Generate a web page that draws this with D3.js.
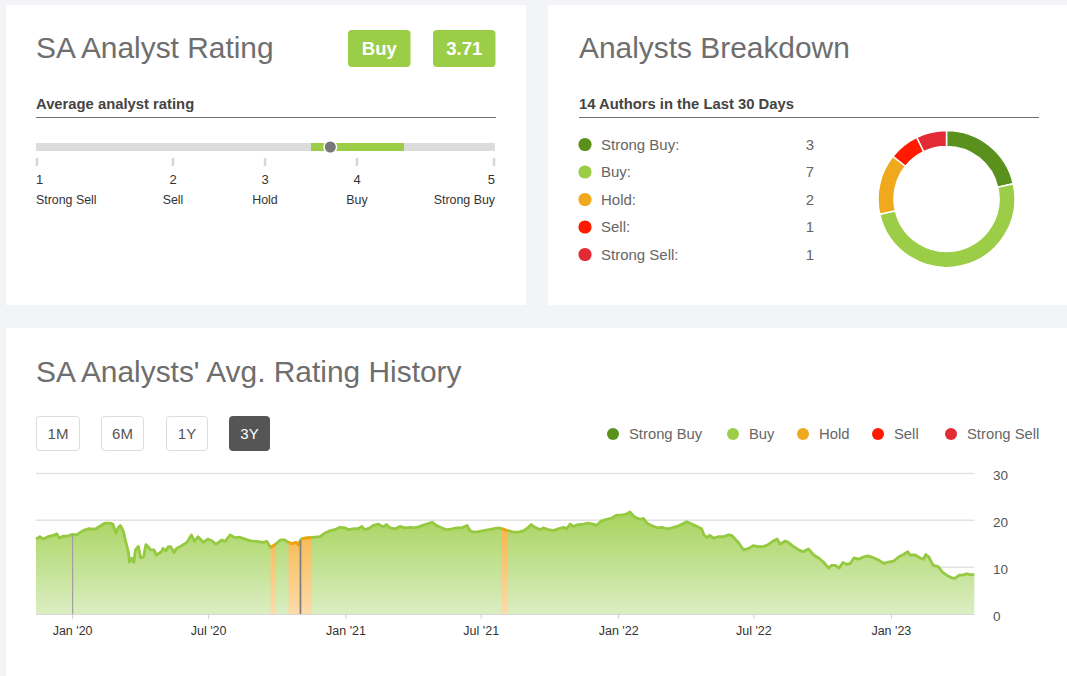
<!DOCTYPE html>
<html><head><meta charset="utf-8">
<script src="https://cdn.jsdelivr.net/npm/d3@7"></script>
<style>
html,body{margin:0;padding:0;background:#f3f4f7;}
svg{display:block;font-family:"Liberation Sans",Arial,sans-serif;}
</style></head>
<body>
<svg id="chart" width="1067" height="676"></svg>
<script>
// ---------- DATA ----------
const ratingValue = 3.71;
const ratingLabel = "Buy";
const ratingRange = [3.5, 4.34];
const scaleTicks = [1, 2, 3, 4, 5];
const scaleTickLabels = ["Strong Sell", "Sell", "Hold", "Buy", "Strong Buy"];

const categories = ["Strong Buy", "Buy", "Hold", "Sell", "Strong Sell"];
const authorCounts = [3, 7, 2, 1, 1];
const categoryColors = ["#5a911d", "#9bcd46", "#f0a81c", "#ff1a00", "#e32b36"];

const periodButtons = ["1M", "6M", "1Y", "3Y"];
const activePeriod = "3Y";
const yTicks = [0, 10, 20, 30];

const history = [
["2019-11-13",16.0],["2019-11-18",16.5],["2019-11-23",16.0],["2019-11-29",16.5],["2019-12-06",16.8],["2019-12-11",17.1],["2019-12-14",16.2],["2019-12-19",16.6],["2019-12-26",16.7],
["2020-01-01",17.0],["2020-01-06",16.9],["2020-01-15",17.8],["2020-01-22",18.2],["2020-01-31",18.1],["2020-02-07",18.8],["2020-02-13",19.4],["2020-02-20",19.4],["2020-02-24",19.2],["2020-02-28",17.3],
["2020-03-02",18.4],["2020-03-05",18.9],["2020-03-09",17.6],["2020-03-12",15.5],["2020-03-16",13.0],["2020-03-17",11.1],["2020-03-20",11.9],["2020-03-23",11.0],["2020-03-25",13.7],["2020-03-29",14.4],
["2020-04-01",12.0],["2020-04-05",12.2],["2020-04-08",14.8],["2020-04-11",14.4],["2020-04-14",13.7],["2020-04-19",13.7],["2020-04-22",12.6],["2020-04-29",13.3],["2020-05-01",14.0],["2020-05-05",13.5],
["2020-05-08",14.4],["2020-05-11",14.4],["2020-05-16",13.1],["2020-05-19",14.0],["2020-05-26",14.6],["2020-06-02",15.3],["2020-06-08",16.9],["2020-06-12",15.5],["2020-06-17",16.5],["2020-06-24",15.3],
["2020-06-30",16.0],["2020-07-06",15.6],["2020-07-11",14.9],["2020-07-19",15.8],["2020-07-23",15.5],["2020-07-30",16.9],["2020-08-05",16.3],["2020-08-12",16.4],["2020-08-19",16.0],["2020-08-26",15.6],
["2020-09-03",15.5],["2020-09-12",15.3],["2020-09-17",15.5],["2020-09-22",14.2],["2020-09-28",14.8],["2020-10-05",15.8],["2020-10-11",15.8],["2020-10-16",15.3],["2020-10-20",15.0],["2020-10-26",15.3],
["2020-10-29",14.8],["2020-11-02",16.0],["2020-11-07",16.2],["2020-11-14",16.3],["2020-11-20",16.4],["2020-11-27",16.5],["2020-12-04",17.3],["2020-12-11",17.8],["2020-12-17",18.0],["2020-12-24",18.5],
["2020-12-31",18.4],["2021-01-04",18.0],["2021-01-11",18.2],["2021-01-17",18.2],["2021-01-22",18.7],["2021-01-26",18.0],["2021-02-02",18.4],["2021-02-06",18.9],["2021-02-13",19.2],["2021-02-20",18.6],
["2021-02-24",19.1],["2021-03-01",18.4],["2021-03-08",18.2],["2021-03-14",18.7],["2021-03-21",18.4],["2021-03-28",18.5],["2021-04-03",18.4],["2021-04-10",18.7],["2021-04-17",19.1],["2021-04-26",19.6],
["2021-05-02",18.9],["2021-05-09",18.4],["2021-05-16",18.0],["2021-05-23",18.2],["2021-05-29",18.4],["2021-06-05",18.4],["2021-06-12",18.9],["2021-06-16",17.8],["2021-06-20",17.5],["2021-06-27",17.6],
["2021-07-04",17.8],["2021-07-11",18.0],["2021-07-17",18.2],["2021-07-24",18.4],["2021-07-29",18.2],["2021-08-04",17.8],["2021-08-06",17.8],["2021-08-13",17.5],["2021-08-20",17.5],["2021-08-27",17.8],
["2021-09-02",18.5],["2021-09-06",19.1],["2021-09-11",18.5],["2021-09-18",18.0],["2021-09-22",18.4],["2021-09-29",18.0],["2021-10-06",17.8],["2021-10-12",18.2],["2021-10-19",18.5],["2021-10-23",18.2],
["2021-10-28",19.2],["2021-11-01",18.7],["2021-11-08",19.1],["2021-11-15",19.2],["2021-11-21",19.4],["2021-11-28",19.2],["2021-12-02",18.9],["2021-12-09",19.9],["2021-12-16",20.2],["2021-12-23",20.5],
["2021-12-29",21.1],["2022-01-05",21.1],["2022-01-12",21.4],["2022-01-16",21.8],["2022-01-21",20.9],["2022-01-25",20.5],["2022-01-30",20.2],["2022-02-03",20.4],["2022-02-08",19.4],["2022-02-14",18.9],
["2022-02-21",18.4],["2022-02-28",18.5],["2022-03-07",18.2],["2022-03-13",18.4],["2022-03-20",18.7],["2022-03-27",19.2],["2022-04-02",19.7],["2022-04-09",19.2],["2022-04-16",18.7],["2022-04-22",18.2],
["2022-04-25",16.9],["2022-04-29",16.3],["2022-05-03",16.8],["2022-05-08",16.2],["2022-05-14",16.5],["2022-05-21",16.5],["2022-05-28",16.9],["2022-06-01",16.8],["2022-06-06",16.0],["2022-06-11",15.1],
["2022-06-17",13.7],["2022-06-24",14.0],["2022-06-30",14.6],["2022-07-07",14.4],["2022-07-14",14.4],["2022-07-21",14.9],["2022-07-27",15.6],["2022-08-01",16.0],["2022-08-05",14.9],["2022-08-12",15.6],
["2022-08-16",15.3],["2022-08-23",14.4],["2022-08-30",13.7],["2022-09-05",13.3],["2022-09-12",13.9],["2022-09-19",12.6],["2022-09-26",11.9],["2022-10-02",11.1],["2022-10-09",9.8],["2022-10-13",10.4],
["2022-10-18",10.4],["2022-10-23",9.8],["2022-10-28",11.0],["2022-11-02",10.6],["2022-11-07",10.8],["2022-11-12",12.0],["2022-11-18",11.7],["2022-11-25",12.2],["2022-12-01",12.4],["2022-12-08",12.0],
["2022-12-15",11.5],["2022-12-22",10.8],["2022-12-28",11.1],["2023-01-04",11.3],["2023-01-11",12.2],["2023-01-17",12.7],["2023-01-23",13.3],["2023-01-26",12.6],["2023-02-02",12.6],["2023-02-08",12.0],
["2023-02-13",11.7],["2023-02-16",12.7],["2023-02-20",12.2],["2023-02-26",10.4],["2023-03-05",10.1],["2023-03-10",9.0],["2023-03-16",8.3],["2023-03-23",7.7],["2023-03-27",7.6],["2023-04-02",8.3],
["2023-04-07",8.3],["2023-04-12",8.6],["2023-04-16",8.4],["2023-04-22",8.4]
];
const holdPeriods = [["2020-09-22","2020-09-29"],["2020-10-16","2020-10-31"],["2020-11-02","2020-11-16"],["2021-07-28","2021-08-06"]];
const noRatingDates = ["2020-01-01","2020-11-01"];

// ---------- DRAW ----------
const svg = d3.select("#chart");
const parse = d3.timeParse("%Y-%m-%d");

// cards
const cards = [[6,5,520,300],[548,5,525,300],[6,328,1070,360]];
svg.selectAll("rect.card").data(cards).join("rect").attr("class","card")
  .attr("x",d=>d[0]).attr("y",d=>d[1]).attr("width",d=>d[2]).attr("height",d=>d[3]).attr("fill","#fff");

function title(x,y,t){ svg.append("text").attr("x",x).attr("y",y).attr("font-size",29.9).attr("fill","#6e6e6e").text(t); }
title(36,58,"SA Analyst Rating");
title(579,58,"Analysts Breakdown");
title(36,382,"SA Analysts' Avg. Rating History");

// badges
[[348,ratingLabel],[433,ratingValue.toFixed(2)]].forEach(([x,t])=>{
  svg.append("rect").attr("x",x).attr("y",30).attr("width",62.5).attr("height",37).attr("rx",4).attr("fill","#9bcd46");
  svg.append("text").attr("x",x+31.25).attr("y",54.5).attr("text-anchor","middle").attr("font-size",18.5)
    .attr("font-weight","bold").attr("fill","#fff").text(t);
});

// section headers
function header(x,x2,t){
  svg.append("text").attr("x",x).attr("y",109).attr("font-size",14.8).attr("font-weight","bold").attr("fill","#444").text(t);
  svg.append("line").attr("x1",x).attr("x2",x2).attr("y1",117.5).attr("y2",117.5).attr("stroke","#6f6f6f").attr("stroke-width",1.2);
}
header(36,496,"Average analyst rating");
header(579,1039,d3.sum(authorCounts)+" Authors in the Last 30 Days");

// rating slider
const sx = d3.scaleLinear().domain(scaleTicks).range([36,173,265,357,495]);
svg.append("rect").attr("x",sx(1)).attr("y",143).attr("width",sx(5)-sx(1)).attr("height",8).attr("fill","#dcdcdc");
svg.append("rect").attr("x",sx(ratingRange[0])).attr("y",143).attr("width",sx(ratingRange[1])-sx(ratingRange[0])).attr("height",8).attr("fill","#9bcd46");
svg.append("circle").attr("cx",sx(ratingValue)).attr("cy",147).attr("r",6.3).attr("fill","#777").attr("stroke","#fff").attr("stroke-width",1.5);
scaleTicks.forEach((t,i)=>{
  const x = sx(t);
  const tx = i===0 ? x+1 : (i===scaleTicks.length-1 ? x-1 : x);
  svg.append("line").attr("x1",tx).attr("x2",tx).attr("y1",158).attr("y2",166).attr("stroke","#d6d6d6").attr("stroke-width",2.5);
  const anchor = i===0 ? "start" : (i===scaleTicks.length-1 ? "end" : "middle");
  svg.append("text").attr("x",x).attr("y",184).attr("text-anchor",anchor).attr("font-size",13).attr("fill","#333").text(t);
  svg.append("text").attr("x",x).attr("y",204).attr("text-anchor",anchor).attr("font-size",12.4).attr("fill","#333").text(scaleTickLabels[i]);
});

// breakdown legend
categories.forEach((c,i)=>{
  const y = 144.5 + i*27.5;
  svg.append("circle").attr("cx",585).attr("cy",y).attr("r",6.6).attr("fill",categoryColors[i]);
  svg.append("text").attr("x",601).attr("y",y+5.3).attr("font-size",15).attr("fill","#666").text(c+":");
  svg.append("text").attr("x",810).attr("y",y+5.3).attr("text-anchor","middle").attr("font-size",15).attr("fill","#666").text(authorCounts[i]);
});
// donut
const pie = d3.pie().sort(null).value(d=>d)(authorCounts);
const arc = d3.arc().innerRadius(52.5).outerRadius(68.5);
svg.append("g").attr("transform","translate(946.5,199)").selectAll("path").data(pie).join("path")
  .attr("d",arc).attr("fill",(d,i)=>categoryColors[i]).attr("stroke","#fff").attr("stroke-width",1.5);

// period buttons
const btnX = [36,101,166,229], btnW = [43,42,41,40];
periodButtons.forEach((b,i)=>{
  const act = b===activePeriod;
  svg.append("rect").attr("x",btnX[i]+0.5).attr("y",416.5).attr("width",btnW[i]).attr("height",34).attr("rx",3)
    .attr("fill",act?"#555":"#fff").attr("stroke",act?"#555":"#dcdcdc");
  svg.append("text").attr("x",btnX[i]+0.5+btnW[i]/2).attr("y",439).attr("text-anchor","middle").attr("font-size",15)
    .attr("fill",act?"#fff":"#555").text(b);
});

// history legend
const legX = [613,733,803,878,951];
categories.forEach((c,i)=>{
  svg.append("circle").attr("cx",legX[i]).attr("cy",434).attr("r",6).attr("fill",categoryColors[i]);
  svg.append("text").attr("x",legX[i]+16).attr("y",439.3).attr("font-size",14.8).attr("fill","#666").text(c);
});

// history chart
const data = history.map(d=>({date:parse(d[0]),value:d[1]}));
const x = d3.scaleTime().domain([data[0].date, data[data.length-1].date]).range([36,974.3]);
const y = d3.scaleLinear().domain([0,30]).range([614,473.5]);

const defs = svg.append("defs");
function grad(id,c1,c2){
  const g = defs.append("linearGradient").attr("id",id).attr("gradientUnits","userSpaceOnUse")
    .attr("x1",0).attr("x2",0).attr("y1",y(22)).attr("y2",y(0));
  g.append("stop").attr("offset",0).attr("stop-color",c1);
  g.append("stop").attr("offset",1).attr("stop-color",c2);
}
grad("gGreen","#a6d35b","#dbeec3");
grad("gOrange","#f4b03c","#fcdcaa");

// grid
yTicks.forEach(t=>{
  svg.append("line").attr("x1",36).attr("x2",974.3).attr("y1",y(t)).attr("y2",y(t))
    .attr("stroke",t===0?"#d8d8d8":"#e2e2e2").attr("stroke-width",t===0?2:1.5);
  svg.append("text").attr("x",993).attr("y",y(t)+6.5).attr("font-size",13.5).attr("fill","#555").text(t);
});

const area = d3.area().x(d=>x(d.date)).y0(y(0)).y1(d=>y(d.value));
const line = d3.line().x(d=>x(d.date)).y(d=>y(d.value));
const plot = svg.append("g");
plot.append("path").datum(data).attr("d",area).attr("fill","url(#gGreen)");
plot.append("path").datum(data).attr("d",line).attr("fill","none").attr("stroke","#95c940").attr("stroke-width",2.8).attr("stroke-linejoin","round");

holdPeriods.forEach((p,i)=>{
  const x0 = x(parse(p[0])), x1 = x(parse(p[1]));
  defs.append("clipPath").attr("id","hold"+i).append("rect").attr("x",x0).attr("y",y(30)-5).attr("width",x1-x0).attr("height",y(0)-y(30)+5);
  plot.append("path").datum(data).attr("d",area).attr("fill","url(#gOrange)").attr("clip-path","url(#hold"+i+")");
  plot.append("path").datum(data).attr("d",line).attr("fill","none").attr("stroke","#f0a20c").attr("stroke-width",2.8).attr("clip-path","url(#hold"+i+")");
});
// no-rating markers
const bis = d3.bisector(d=>d.date).left;
noRatingDates.forEach((s,k)=>{
  const dt = parse(s);
  const i = Math.min(bis(data,dt), data.length-1);
  const a = data[Math.max(0,i-1)], b = data[i];
  const t = b.date-a.date ? (dt-a.date)/(b.date-a.date) : 0;
  const v = a.value + (b.value-a.value)*t;
  plot.append("line").attr("x1",x(dt)).attr("x2",x(dt)).attr("y1",y(v)).attr("y2",y(0))
    .attr("stroke",k===0?"#a0a0a0":"#808080").attr("stroke-width",k===0?1.2:1.8);
});

// x axis
const xt = x.ticks(d3.timeMonth.every(6)).filter(d=>d.getMonth()%6===0);
xt.forEach(d=>{
  svg.append("line").attr("x1",x(d)).attr("x2",x(d)).attr("y1",y(0)).attr("y2",y(0)+5).attr("stroke","#d0d0d0").attr("stroke-width",1);
  svg.append("text").attr("x",x(d)).attr("y",635).attr("text-anchor","middle").attr("font-size",12.5).attr("fill","#333").text(d3.timeFormat("%b '%y")(d));
});
</script>
</body></html>
